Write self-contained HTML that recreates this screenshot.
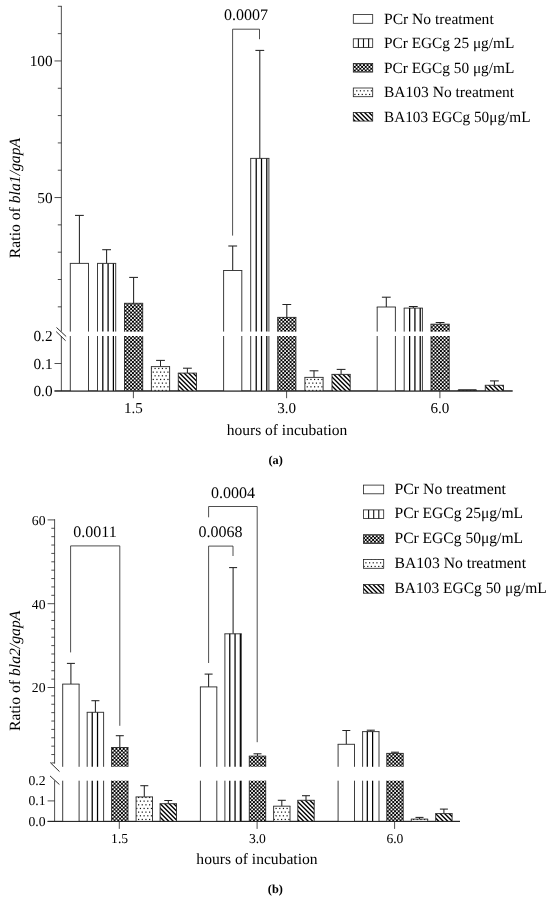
<!DOCTYPE html>
<html lang="en"><head><meta charset="utf-8"><title>Ratio of bla1/gapA and bla2/gapA</title>
<style>
html,body{margin:0;padding:0;background:#fff}
body{width:550px;height:900px;overflow:hidden}
svg{display:block;font-family:"Liberation Serif","Times New Roman",serif;fill:#000;text-rendering:geometricPrecision}
</style></head><body>
<svg width="550" height="900" viewBox="0 0 550 900">
<defs>
<pattern id="pcheck" width="11.000" height="11.000" patternUnits="userSpaceOnUse">
<rect width="11.000" height="11.000" fill="#000"/>
<rect x="0.057" y="0.057" width="1.72" height="1.72" fill="#fff"/>
<rect x="1.890" y="1.890" width="1.72" height="1.72" fill="#fff"/>
<rect x="0.057" y="3.723" width="1.72" height="1.72" fill="#fff"/>
<rect x="1.890" y="5.557" width="1.72" height="1.72" fill="#fff"/>
<rect x="0.057" y="7.390" width="1.72" height="1.72" fill="#fff"/>
<rect x="1.890" y="9.223" width="1.72" height="1.72" fill="#fff"/>
<rect x="3.723" y="0.057" width="1.72" height="1.72" fill="#fff"/>
<rect x="5.557" y="1.890" width="1.72" height="1.72" fill="#fff"/>
<rect x="3.723" y="3.723" width="1.72" height="1.72" fill="#fff"/>
<rect x="5.557" y="5.557" width="1.72" height="1.72" fill="#fff"/>
<rect x="3.723" y="7.390" width="1.72" height="1.72" fill="#fff"/>
<rect x="5.557" y="9.223" width="1.72" height="1.72" fill="#fff"/>
<rect x="7.390" y="0.057" width="1.72" height="1.72" fill="#fff"/>
<rect x="9.223" y="1.890" width="1.72" height="1.72" fill="#fff"/>
<rect x="7.390" y="3.723" width="1.72" height="1.72" fill="#fff"/>
<rect x="9.223" y="5.557" width="1.72" height="1.72" fill="#fff"/>
<rect x="7.390" y="7.390" width="1.72" height="1.72" fill="#fff"/>
<rect x="9.223" y="9.223" width="1.72" height="1.72" fill="#fff"/>
</pattern>
<pattern id="pdots" width="11.000" height="22.000" patternUnits="userSpaceOnUse">
<rect width="11.000" height="22.000" fill="#fff"/>
<rect x="0.500" y="1.200" width="1.2" height="1.2" fill="#111"/>
<rect x="2.333" y="4.867" width="1.2" height="1.2" fill="#111"/>
<rect x="0.500" y="8.533" width="1.2" height="1.2" fill="#111"/>
<rect x="2.333" y="12.200" width="1.2" height="1.2" fill="#111"/>
<rect x="0.500" y="15.867" width="1.2" height="1.2" fill="#111"/>
<rect x="2.333" y="19.533" width="1.2" height="1.2" fill="#111"/>
<rect x="4.167" y="1.200" width="1.2" height="1.2" fill="#111"/>
<rect x="6.000" y="4.867" width="1.2" height="1.2" fill="#111"/>
<rect x="4.167" y="8.533" width="1.2" height="1.2" fill="#111"/>
<rect x="6.000" y="12.200" width="1.2" height="1.2" fill="#111"/>
<rect x="4.167" y="15.867" width="1.2" height="1.2" fill="#111"/>
<rect x="6.000" y="19.533" width="1.2" height="1.2" fill="#111"/>
<rect x="7.833" y="1.200" width="1.2" height="1.2" fill="#111"/>
<rect x="9.667" y="4.867" width="1.2" height="1.2" fill="#111"/>
<rect x="7.833" y="8.533" width="1.2" height="1.2" fill="#111"/>
<rect x="9.667" y="12.200" width="1.2" height="1.2" fill="#111"/>
<rect x="7.833" y="15.867" width="1.2" height="1.2" fill="#111"/>
<rect x="9.667" y="19.533" width="1.2" height="1.2" fill="#111"/>
</pattern>
<pattern id="pdotsA" patternTransform="translate(0,1)" width="11.000" height="22.000" patternUnits="userSpaceOnUse">
<rect width="11.000" height="22.000" fill="#fff"/>
<rect x="0.500" y="1.200" width="1.2" height="1.2" fill="#111"/>
<rect x="2.333" y="4.867" width="1.2" height="1.2" fill="#111"/>
<rect x="0.500" y="8.533" width="1.2" height="1.2" fill="#111"/>
<rect x="2.333" y="12.200" width="1.2" height="1.2" fill="#111"/>
<rect x="0.500" y="15.867" width="1.2" height="1.2" fill="#111"/>
<rect x="2.333" y="19.533" width="1.2" height="1.2" fill="#111"/>
<rect x="4.167" y="1.200" width="1.2" height="1.2" fill="#111"/>
<rect x="6.000" y="4.867" width="1.2" height="1.2" fill="#111"/>
<rect x="4.167" y="8.533" width="1.2" height="1.2" fill="#111"/>
<rect x="6.000" y="12.200" width="1.2" height="1.2" fill="#111"/>
<rect x="4.167" y="15.867" width="1.2" height="1.2" fill="#111"/>
<rect x="6.000" y="19.533" width="1.2" height="1.2" fill="#111"/>
<rect x="7.833" y="1.200" width="1.2" height="1.2" fill="#111"/>
<rect x="9.667" y="4.867" width="1.2" height="1.2" fill="#111"/>
<rect x="7.833" y="8.533" width="1.2" height="1.2" fill="#111"/>
<rect x="9.667" y="12.200" width="1.2" height="1.2" fill="#111"/>
<rect x="7.833" y="15.867" width="1.2" height="1.2" fill="#111"/>
<rect x="9.667" y="19.533" width="1.2" height="1.2" fill="#111"/>
</pattern>
<pattern id="pdiag" width="18.000" height="18.000" patternUnits="userSpaceOnUse">
<rect width="18.000" height="18.000" fill="#fff"/>
<path d="M-2.00,-20.00 L20.00,2.00 M-2.00,-15.50 L20.00,6.50 M-2.00,-11.00 L20.00,11.00 M-2.00,-6.50 L20.00,15.50 M-2.00,-2.00 L20.00,20.00 M-2.00,2.50 L20.00,24.50 M-2.00,7.00 L20.00,29.00 M-2.00,11.50 L20.00,33.50 M-2.00,16.00 L20.00,38.00" stroke="#000" stroke-width="1.4" fill="none"/>
</pattern>
</defs>
<rect width="550" height="900" fill="#fff"/>

<line x1="61.35" y1="5.90" x2="61.35" y2="331.50" stroke="#222" stroke-width="0.8"/>
<line x1="61.35" y1="336.00" x2="61.35" y2="391.00" stroke="#222" stroke-width="0.8"/>
<line x1="57.80" y1="306.83" x2="61.35" y2="306.83" stroke="#222" stroke-width="0.8"/>
<line x1="57.80" y1="279.51" x2="61.35" y2="279.51" stroke="#222" stroke-width="0.8"/>
<line x1="57.80" y1="252.19" x2="61.35" y2="252.19" stroke="#222" stroke-width="0.8"/>
<line x1="57.80" y1="224.87" x2="61.35" y2="224.87" stroke="#222" stroke-width="0.8"/>
<line x1="54.50" y1="197.55" x2="61.35" y2="197.55" stroke="#222" stroke-width="0.8"/>
<line x1="57.80" y1="170.23" x2="61.35" y2="170.23" stroke="#222" stroke-width="0.8"/>
<line x1="57.80" y1="142.91" x2="61.35" y2="142.91" stroke="#222" stroke-width="0.8"/>
<line x1="57.80" y1="115.59" x2="61.35" y2="115.59" stroke="#222" stroke-width="0.8"/>
<line x1="57.80" y1="88.27" x2="61.35" y2="88.27" stroke="#222" stroke-width="0.8"/>
<line x1="54.50" y1="60.95" x2="61.35" y2="60.95" stroke="#222" stroke-width="0.8"/>
<line x1="57.80" y1="33.63" x2="61.35" y2="33.63" stroke="#222" stroke-width="0.8"/>
<line x1="57.80" y1="6.31" x2="61.35" y2="6.31" stroke="#222" stroke-width="0.8"/>
<line x1="54.50" y1="363.50" x2="61.35" y2="363.50" stroke="#222" stroke-width="0.8"/>
<line x1="54.50" y1="390.98" x2="512.60" y2="390.98" stroke="#222" stroke-width="1.0"/>
<line x1="133.40" y1="391.00" x2="133.40" y2="398.20" stroke="#222" stroke-width="0.8"/>
<line x1="286.60" y1="391.00" x2="286.60" y2="398.20" stroke="#222" stroke-width="0.8"/>
<line x1="439.90" y1="391.00" x2="439.90" y2="398.20" stroke="#222" stroke-width="0.8"/>
<line x1="56.50" y1="327.50" x2="66.20" y2="336.50" stroke="#222" stroke-width="0.95"/>
<line x1="56.20" y1="331.60" x2="65.60" y2="340.70" stroke="#222" stroke-width="0.95"/>
<text x="52.60" y="66.30" font-size="15.3" text-anchor="end" >100</text>
<text x="52.60" y="202.90" font-size="15.3" text-anchor="end" >50</text>
<text x="52.60" y="341.00" font-size="15.3" text-anchor="end" >0.2</text>
<text x="52.60" y="369.05" font-size="15.3" text-anchor="end" >0.1</text>
<text x="52.60" y="396.45" font-size="15.3" text-anchor="end" >0.0</text>
<text x="133.40" y="413.00" font-size="15.1" text-anchor="middle" >1.5</text>
<text x="286.60" y="413.00" font-size="15.1" text-anchor="middle" >3.0</text>
<text x="439.90" y="413.00" font-size="15.1" text-anchor="middle" >6.0</text>
<text x="287.00" y="435.00" font-size="15.5" text-anchor="middle" >hours of incubation</text>
<text transform="translate(20.4,198) rotate(-90)" font-size="15.7" text-anchor="middle">Ratio of <tspan font-style="italic">bla1/gapA</tspan></text>
<text x="275.7" y="464.4" font-size="12.3" font-weight="bold" text-anchor="middle">(a)</text>
<line x1="79.40" y1="215.40" x2="79.40" y2="263.40" stroke="#222" stroke-width="1.05"/>
<line x1="75.00" y1="215.40" x2="83.80" y2="215.40" stroke="#222" stroke-width="1.05"/>
<rect x="70.30" y="263.40" width="18.20" height="68.20" fill="#fff"/>
<line x1="70.30" y1="263.40" x2="70.30" y2="331.60" stroke="#222" stroke-width="0.88"/>
<line x1="88.50" y1="263.40" x2="88.50" y2="331.60" stroke="#222" stroke-width="0.88"/>
<line x1="69.86" y1="263.40" x2="88.94" y2="263.40" stroke="#222" stroke-width="0.88"/>
<rect x="70.30" y="336.00" width="18.20" height="55.00" fill="#fff"/>
<line x1="70.30" y1="336.00" x2="70.30" y2="391.00" stroke="#222" stroke-width="0.88"/>
<line x1="88.50" y1="336.00" x2="88.50" y2="391.00" stroke="#222" stroke-width="0.88"/>
<line x1="106.60" y1="249.70" x2="106.60" y2="263.40" stroke="#222" stroke-width="1.05"/>
<line x1="102.20" y1="249.70" x2="111.00" y2="249.70" stroke="#222" stroke-width="1.05"/>
<rect x="97.50" y="263.40" width="18.20" height="68.20" fill="#fff"/>
<line x1="102.81" y1="263.40" x2="102.81" y2="331.60" stroke="#000" stroke-width="1.25"/>
<line x1="108.10" y1="263.40" x2="108.10" y2="331.60" stroke="#000" stroke-width="1.25"/>
<line x1="113.39" y1="263.40" x2="113.39" y2="331.60" stroke="#000" stroke-width="1.25"/>
<line x1="97.50" y1="263.40" x2="97.50" y2="331.60" stroke="#222" stroke-width="0.88"/>
<line x1="115.70" y1="263.40" x2="115.70" y2="331.60" stroke="#222" stroke-width="0.88"/>
<line x1="97.06" y1="263.40" x2="116.14" y2="263.40" stroke="#222" stroke-width="0.88"/>
<rect x="97.50" y="336.00" width="18.20" height="55.00" fill="#fff"/>
<line x1="102.81" y1="336.00" x2="102.81" y2="391.00" stroke="#000" stroke-width="1.25"/>
<line x1="108.10" y1="336.00" x2="108.10" y2="391.00" stroke="#000" stroke-width="1.25"/>
<line x1="113.39" y1="336.00" x2="113.39" y2="391.00" stroke="#000" stroke-width="1.25"/>
<line x1="97.50" y1="336.00" x2="97.50" y2="391.00" stroke="#222" stroke-width="0.88"/>
<line x1="115.70" y1="336.00" x2="115.70" y2="391.00" stroke="#222" stroke-width="0.88"/>
<line x1="133.60" y1="277.40" x2="133.60" y2="303.30" stroke="#222" stroke-width="1.05"/>
<line x1="129.20" y1="277.40" x2="138.00" y2="277.40" stroke="#222" stroke-width="1.05"/>
<rect x="124.50" y="303.30" width="18.20" height="28.30" fill="#fff"/>
<rect x="124.50" y="303.30" width="18.20" height="28.30" fill="url(#pcheck)"/>
<line x1="124.50" y1="303.30" x2="124.50" y2="331.60" stroke="#222" stroke-width="0.88"/>
<line x1="142.70" y1="303.30" x2="142.70" y2="331.60" stroke="#222" stroke-width="0.88"/>
<line x1="124.06" y1="303.30" x2="143.14" y2="303.30" stroke="#222" stroke-width="0.88"/>
<rect x="124.50" y="336.00" width="18.20" height="55.00" fill="#fff"/>
<rect x="124.50" y="336.00" width="18.20" height="55.00" fill="url(#pcheck)"/>
<line x1="124.50" y1="336.00" x2="124.50" y2="391.00" stroke="#222" stroke-width="0.88"/>
<line x1="142.70" y1="336.00" x2="142.70" y2="391.00" stroke="#222" stroke-width="0.88"/>
<line x1="160.50" y1="360.40" x2="160.50" y2="366.60" stroke="#222" stroke-width="1.05"/>
<line x1="156.10" y1="360.40" x2="164.90" y2="360.40" stroke="#222" stroke-width="1.05"/>
<rect x="151.40" y="366.60" width="18.20" height="24.40" fill="#fff"/>
<rect x="151.40" y="366.60" width="18.20" height="24.40" fill="url(#pdots)"/>
<line x1="151.40" y1="366.60" x2="151.40" y2="391.00" stroke="#222" stroke-width="0.88"/>
<line x1="169.60" y1="366.60" x2="169.60" y2="391.00" stroke="#222" stroke-width="0.88"/>
<line x1="150.96" y1="366.60" x2="170.04" y2="366.60" stroke="#222" stroke-width="0.88"/>
<line x1="187.40" y1="368.20" x2="187.40" y2="373.10" stroke="#222" stroke-width="1.05"/>
<line x1="183.00" y1="368.20" x2="191.80" y2="368.20" stroke="#222" stroke-width="1.05"/>
<rect x="178.30" y="373.10" width="18.20" height="17.90" fill="#fff"/>
<rect x="178.30" y="373.10" width="18.20" height="17.90" fill="url(#pdiag)"/>
<line x1="178.30" y1="373.10" x2="178.30" y2="391.00" stroke="#222" stroke-width="0.88"/>
<line x1="196.50" y1="373.10" x2="196.50" y2="391.00" stroke="#222" stroke-width="0.88"/>
<line x1="177.86" y1="373.10" x2="196.94" y2="373.10" stroke="#222" stroke-width="0.88"/>
<line x1="232.70" y1="246.00" x2="232.70" y2="270.50" stroke="#222" stroke-width="1.05"/>
<line x1="228.30" y1="246.00" x2="237.10" y2="246.00" stroke="#222" stroke-width="1.05"/>
<rect x="223.60" y="270.50" width="18.20" height="61.10" fill="#fff"/>
<line x1="223.60" y1="270.50" x2="223.60" y2="331.60" stroke="#222" stroke-width="0.88"/>
<line x1="241.80" y1="270.50" x2="241.80" y2="331.60" stroke="#222" stroke-width="0.88"/>
<line x1="223.16" y1="270.50" x2="242.24" y2="270.50" stroke="#222" stroke-width="0.88"/>
<rect x="223.60" y="336.00" width="18.20" height="55.00" fill="#fff"/>
<line x1="223.60" y1="336.00" x2="223.60" y2="391.00" stroke="#222" stroke-width="0.88"/>
<line x1="241.80" y1="336.00" x2="241.80" y2="391.00" stroke="#222" stroke-width="0.88"/>
<line x1="259.80" y1="50.40" x2="259.80" y2="158.40" stroke="#222" stroke-width="1.05"/>
<line x1="255.40" y1="50.40" x2="264.20" y2="50.40" stroke="#222" stroke-width="1.05"/>
<rect x="250.70" y="158.40" width="18.20" height="173.20" fill="#fff"/>
<line x1="256.22" y1="158.40" x2="256.22" y2="331.60" stroke="#000" stroke-width="1.25"/>
<line x1="261.51" y1="158.40" x2="261.51" y2="331.60" stroke="#000" stroke-width="1.25"/>
<line x1="266.80" y1="158.40" x2="266.80" y2="331.60" stroke="#000" stroke-width="1.25"/>
<line x1="250.70" y1="158.40" x2="250.70" y2="331.60" stroke="#222" stroke-width="0.88"/>
<line x1="268.90" y1="158.40" x2="268.90" y2="331.60" stroke="#222" stroke-width="0.88"/>
<line x1="250.26" y1="158.40" x2="269.34" y2="158.40" stroke="#222" stroke-width="0.88"/>
<rect x="250.70" y="336.00" width="18.20" height="55.00" fill="#fff"/>
<line x1="256.22" y1="336.00" x2="256.22" y2="391.00" stroke="#000" stroke-width="1.25"/>
<line x1="261.51" y1="336.00" x2="261.51" y2="391.00" stroke="#000" stroke-width="1.25"/>
<line x1="266.80" y1="336.00" x2="266.80" y2="391.00" stroke="#000" stroke-width="1.25"/>
<line x1="250.70" y1="336.00" x2="250.70" y2="391.00" stroke="#222" stroke-width="0.88"/>
<line x1="268.90" y1="336.00" x2="268.90" y2="391.00" stroke="#222" stroke-width="0.88"/>
<line x1="286.80" y1="304.50" x2="286.80" y2="317.40" stroke="#222" stroke-width="1.05"/>
<line x1="282.40" y1="304.50" x2="291.20" y2="304.50" stroke="#222" stroke-width="1.05"/>
<rect x="277.70" y="317.40" width="18.20" height="14.20" fill="#fff"/>
<rect x="277.70" y="317.40" width="18.20" height="14.20" fill="url(#pcheck)"/>
<line x1="277.70" y1="317.40" x2="277.70" y2="331.60" stroke="#222" stroke-width="0.88"/>
<line x1="295.90" y1="317.40" x2="295.90" y2="331.60" stroke="#222" stroke-width="0.88"/>
<line x1="277.26" y1="317.40" x2="296.34" y2="317.40" stroke="#222" stroke-width="0.88"/>
<rect x="277.70" y="336.00" width="18.20" height="55.00" fill="#fff"/>
<rect x="277.70" y="336.00" width="18.20" height="55.00" fill="url(#pcheck)"/>
<line x1="277.70" y1="336.00" x2="277.70" y2="391.00" stroke="#222" stroke-width="0.88"/>
<line x1="295.90" y1="336.00" x2="295.90" y2="391.00" stroke="#222" stroke-width="0.88"/>
<line x1="314.00" y1="370.80" x2="314.00" y2="377.40" stroke="#222" stroke-width="1.05"/>
<line x1="309.60" y1="370.80" x2="318.40" y2="370.80" stroke="#222" stroke-width="1.05"/>
<rect x="304.90" y="377.40" width="18.20" height="13.60" fill="#fff"/>
<rect x="304.90" y="377.40" width="18.20" height="13.60" fill="url(#pdots)"/>
<line x1="304.90" y1="377.40" x2="304.90" y2="391.00" stroke="#222" stroke-width="0.88"/>
<line x1="323.10" y1="377.40" x2="323.10" y2="391.00" stroke="#222" stroke-width="0.88"/>
<line x1="304.46" y1="377.40" x2="323.54" y2="377.40" stroke="#222" stroke-width="0.88"/>
<line x1="341.10" y1="369.40" x2="341.10" y2="374.40" stroke="#222" stroke-width="1.05"/>
<line x1="336.70" y1="369.40" x2="345.50" y2="369.40" stroke="#222" stroke-width="1.05"/>
<rect x="332.00" y="374.40" width="18.20" height="16.60" fill="#fff"/>
<rect x="332.00" y="374.40" width="18.20" height="16.60" fill="url(#pdiag)"/>
<line x1="332.00" y1="374.40" x2="332.00" y2="391.00" stroke="#222" stroke-width="0.88"/>
<line x1="350.20" y1="374.40" x2="350.20" y2="391.00" stroke="#222" stroke-width="0.88"/>
<line x1="331.56" y1="374.40" x2="350.64" y2="374.40" stroke="#222" stroke-width="0.88"/>
<line x1="386.30" y1="297.20" x2="386.30" y2="307.00" stroke="#222" stroke-width="1.05"/>
<line x1="381.90" y1="297.20" x2="390.70" y2="297.20" stroke="#222" stroke-width="1.05"/>
<rect x="377.20" y="307.00" width="18.20" height="24.60" fill="#fff"/>
<line x1="377.20" y1="307.00" x2="377.20" y2="331.60" stroke="#222" stroke-width="0.88"/>
<line x1="395.40" y1="307.00" x2="395.40" y2="331.60" stroke="#222" stroke-width="0.88"/>
<line x1="376.76" y1="307.00" x2="395.84" y2="307.00" stroke="#222" stroke-width="0.88"/>
<rect x="377.20" y="336.00" width="18.20" height="55.00" fill="#fff"/>
<line x1="377.20" y1="336.00" x2="377.20" y2="391.00" stroke="#222" stroke-width="0.88"/>
<line x1="395.40" y1="336.00" x2="395.40" y2="391.00" stroke="#222" stroke-width="0.88"/>
<line x1="413.30" y1="306.50" x2="413.30" y2="308.10" stroke="#222" stroke-width="1.05"/>
<line x1="408.90" y1="306.50" x2="417.70" y2="306.50" stroke="#222" stroke-width="1.05"/>
<rect x="404.20" y="308.10" width="18.20" height="23.50" fill="#fff"/>
<line x1="409.63" y1="308.10" x2="409.63" y2="331.60" stroke="#000" stroke-width="1.25"/>
<line x1="414.92" y1="308.10" x2="414.92" y2="331.60" stroke="#000" stroke-width="1.25"/>
<line x1="420.21" y1="308.10" x2="420.21" y2="331.60" stroke="#000" stroke-width="1.25"/>
<line x1="404.20" y1="308.10" x2="404.20" y2="331.60" stroke="#222" stroke-width="0.88"/>
<line x1="422.40" y1="308.10" x2="422.40" y2="331.60" stroke="#222" stroke-width="0.88"/>
<line x1="403.76" y1="308.10" x2="422.84" y2="308.10" stroke="#222" stroke-width="0.88"/>
<rect x="404.20" y="336.00" width="18.20" height="55.00" fill="#fff"/>
<line x1="409.63" y1="336.00" x2="409.63" y2="391.00" stroke="#000" stroke-width="1.25"/>
<line x1="414.92" y1="336.00" x2="414.92" y2="391.00" stroke="#000" stroke-width="1.25"/>
<line x1="420.21" y1="336.00" x2="420.21" y2="391.00" stroke="#000" stroke-width="1.25"/>
<line x1="404.20" y1="336.00" x2="404.20" y2="391.00" stroke="#222" stroke-width="0.88"/>
<line x1="422.40" y1="336.00" x2="422.40" y2="391.00" stroke="#222" stroke-width="0.88"/>
<line x1="440.10" y1="322.50" x2="440.10" y2="324.20" stroke="#222" stroke-width="1.05"/>
<line x1="435.70" y1="322.50" x2="444.50" y2="322.50" stroke="#222" stroke-width="1.05"/>
<rect x="431.00" y="324.20" width="18.20" height="7.40" fill="#fff"/>
<rect x="431.00" y="324.20" width="18.20" height="7.40" fill="url(#pcheck)"/>
<line x1="431.00" y1="324.20" x2="431.00" y2="331.60" stroke="#222" stroke-width="0.88"/>
<line x1="449.20" y1="324.20" x2="449.20" y2="331.60" stroke="#222" stroke-width="0.88"/>
<line x1="430.56" y1="324.20" x2="449.64" y2="324.20" stroke="#222" stroke-width="0.88"/>
<rect x="431.00" y="336.00" width="18.20" height="55.00" fill="#fff"/>
<rect x="431.00" y="336.00" width="18.20" height="55.00" fill="url(#pcheck)"/>
<line x1="431.00" y1="336.00" x2="431.00" y2="391.00" stroke="#222" stroke-width="0.88"/>
<line x1="449.20" y1="336.00" x2="449.20" y2="391.00" stroke="#222" stroke-width="0.88"/>
<rect x="458.20" y="390.30" width="18.20" height="0.70" fill="#fff"/>
<rect x="458.20" y="390.30" width="18.20" height="0.70" fill="url(#pdots)"/>
<line x1="458.20" y1="390.30" x2="458.20" y2="391.00" stroke="#222" stroke-width="0.88"/>
<line x1="476.40" y1="390.30" x2="476.40" y2="391.00" stroke="#222" stroke-width="0.88"/>
<line x1="457.76" y1="390.30" x2="476.84" y2="390.30" stroke="#222" stroke-width="0.88"/>
<line x1="494.40" y1="380.90" x2="494.40" y2="385.30" stroke="#222" stroke-width="1.05"/>
<line x1="490.00" y1="380.90" x2="498.80" y2="380.90" stroke="#222" stroke-width="1.05"/>
<rect x="485.30" y="385.30" width="18.20" height="5.70" fill="#fff"/>
<rect x="485.30" y="385.30" width="18.20" height="5.70" fill="url(#pdiag)"/>
<line x1="485.30" y1="385.30" x2="485.30" y2="391.00" stroke="#222" stroke-width="0.88"/>
<line x1="503.50" y1="385.30" x2="503.50" y2="391.00" stroke="#222" stroke-width="0.88"/>
<line x1="484.86" y1="385.30" x2="503.94" y2="385.30" stroke="#222" stroke-width="0.88"/>
<line x1="458.20" y1="389.90" x2="476.40" y2="389.90" stroke="#111" stroke-width="1.1"/>
<line x1="54.50" y1="390.98" x2="512.60" y2="390.98" stroke="#222" stroke-width="1.0"/>
<path d="M232.6,235.6 V29.2 H259.5 V39.2" fill="none" stroke="#222" stroke-width="0.8"/>
<text x="245.90" y="20.00" font-size="16" text-anchor="middle" >0.0007</text>
<rect x="353.30" y="14.60" width="19.40" height="8.70" fill="#fff" stroke="#222" stroke-width="0.8"/>
<text x="384.00" y="24.00" font-size="15.5" text-anchor="start" textLength="109.7" lengthAdjust="spacingAndGlyphs">PCr No treatment</text>
<rect x="353.30" y="38.80" width="19.40" height="8.70" fill="#fff" stroke="#222" stroke-width="0.8"/>
<line x1="358.40" y1="38.80" x2="358.40" y2="47.50" stroke="#111" stroke-width="1.1"/>
<line x1="363.50" y1="38.80" x2="363.50" y2="47.50" stroke="#111" stroke-width="1.1"/>
<line x1="368.60" y1="38.80" x2="368.60" y2="47.50" stroke="#111" stroke-width="1.1"/>
<text x="384.00" y="48.00" font-size="15.5" text-anchor="start" textLength="130.3" lengthAdjust="spacingAndGlyphs">PCr EGCg 25 μg/mL</text>
<rect x="353.30" y="63.40" width="19.40" height="8.70" fill="url(#pcheck)" stroke="#222" stroke-width="0.8"/>
<text x="384.00" y="73.00" font-size="15.5" text-anchor="start" textLength="130.3" lengthAdjust="spacingAndGlyphs">PCr EGCg 50 μg/mL</text>
<rect x="353.30" y="88.00" width="19.40" height="8.70" fill="url(#pdotsA)" stroke="#222" stroke-width="0.8"/>
<text x="384.00" y="97.00" font-size="15.5" text-anchor="start" textLength="130.1" lengthAdjust="spacingAndGlyphs">BA103 No treatment</text>
<rect x="353.30" y="112.40" width="19.40" height="8.70" fill="url(#pdiag)" stroke="#222" stroke-width="0.8"/>
<text x="384.00" y="122.00" font-size="15.5" text-anchor="start" textLength="146.5" lengthAdjust="spacingAndGlyphs">BA103 EGCg 50μg/mL</text>
<line x1="54.60" y1="519.20" x2="54.60" y2="763.60" stroke="#222" stroke-width="0.8"/>
<line x1="54.60" y1="780.60" x2="54.60" y2="821.40" stroke="#222" stroke-width="0.8"/>
<line x1="47.60" y1="519.90" x2="54.60" y2="519.90" stroke="#222" stroke-width="0.8"/>
<line x1="51.30" y1="528.28" x2="54.60" y2="528.28" stroke="#222" stroke-width="0.8"/>
<line x1="51.30" y1="536.66" x2="54.60" y2="536.66" stroke="#222" stroke-width="0.8"/>
<line x1="51.30" y1="545.04" x2="54.60" y2="545.04" stroke="#222" stroke-width="0.8"/>
<line x1="51.30" y1="553.42" x2="54.60" y2="553.42" stroke="#222" stroke-width="0.8"/>
<line x1="51.30" y1="561.80" x2="54.60" y2="561.80" stroke="#222" stroke-width="0.8"/>
<line x1="51.30" y1="570.18" x2="54.60" y2="570.18" stroke="#222" stroke-width="0.8"/>
<line x1="51.30" y1="578.56" x2="54.60" y2="578.56" stroke="#222" stroke-width="0.8"/>
<line x1="51.30" y1="586.94" x2="54.60" y2="586.94" stroke="#222" stroke-width="0.8"/>
<line x1="51.30" y1="595.32" x2="54.60" y2="595.32" stroke="#222" stroke-width="0.8"/>
<line x1="47.60" y1="603.70" x2="54.60" y2="603.70" stroke="#222" stroke-width="0.8"/>
<line x1="51.30" y1="612.08" x2="54.60" y2="612.08" stroke="#222" stroke-width="0.8"/>
<line x1="51.30" y1="620.46" x2="54.60" y2="620.46" stroke="#222" stroke-width="0.8"/>
<line x1="51.30" y1="628.84" x2="54.60" y2="628.84" stroke="#222" stroke-width="0.8"/>
<line x1="51.30" y1="637.22" x2="54.60" y2="637.22" stroke="#222" stroke-width="0.8"/>
<line x1="51.30" y1="645.60" x2="54.60" y2="645.60" stroke="#222" stroke-width="0.8"/>
<line x1="51.30" y1="653.98" x2="54.60" y2="653.98" stroke="#222" stroke-width="0.8"/>
<line x1="51.30" y1="662.36" x2="54.60" y2="662.36" stroke="#222" stroke-width="0.8"/>
<line x1="51.30" y1="670.74" x2="54.60" y2="670.74" stroke="#222" stroke-width="0.8"/>
<line x1="51.30" y1="679.12" x2="54.60" y2="679.12" stroke="#222" stroke-width="0.8"/>
<line x1="47.60" y1="687.50" x2="54.60" y2="687.50" stroke="#222" stroke-width="0.8"/>
<line x1="51.30" y1="695.88" x2="54.60" y2="695.88" stroke="#222" stroke-width="0.8"/>
<line x1="51.30" y1="704.26" x2="54.60" y2="704.26" stroke="#222" stroke-width="0.8"/>
<line x1="51.30" y1="712.64" x2="54.60" y2="712.64" stroke="#222" stroke-width="0.8"/>
<line x1="51.30" y1="721.02" x2="54.60" y2="721.02" stroke="#222" stroke-width="0.8"/>
<line x1="51.30" y1="729.40" x2="54.60" y2="729.40" stroke="#222" stroke-width="0.8"/>
<line x1="51.30" y1="737.78" x2="54.60" y2="737.78" stroke="#222" stroke-width="0.8"/>
<line x1="51.30" y1="746.16" x2="54.60" y2="746.16" stroke="#222" stroke-width="0.8"/>
<line x1="51.30" y1="754.54" x2="54.60" y2="754.54" stroke="#222" stroke-width="0.8"/>
<line x1="51.30" y1="762.92" x2="54.60" y2="762.92" stroke="#222" stroke-width="0.8"/>
<line x1="47.60" y1="800.90" x2="54.60" y2="800.90" stroke="#222" stroke-width="0.8"/>
<line x1="47.60" y1="821.40" x2="460.00" y2="821.40" stroke="#222" stroke-width="1.0"/>
<line x1="119.30" y1="821.40" x2="119.30" y2="828.90" stroke="#222" stroke-width="0.8"/>
<line x1="257.10" y1="821.40" x2="257.10" y2="828.90" stroke="#222" stroke-width="0.8"/>
<line x1="394.60" y1="821.40" x2="394.60" y2="828.90" stroke="#222" stroke-width="0.8"/>
<line x1="50.20" y1="762.50" x2="59.50" y2="771.60" stroke="#222" stroke-width="0.95"/>
<line x1="50.00" y1="775.90" x2="59.40" y2="784.50" stroke="#222" stroke-width="0.95"/>
<text x="45.50" y="525.00" font-size="13.7" text-anchor="end" >60</text>
<text x="45.50" y="609.00" font-size="13.7" text-anchor="end" >40</text>
<text x="45.50" y="692.00" font-size="13.7" text-anchor="end" >20</text>
<text x="45.50" y="785.00" font-size="13.7" text-anchor="end" >0.2</text>
<text x="45.50" y="805.00" font-size="13.7" text-anchor="end" >0.1</text>
<text x="45.50" y="826.00" font-size="13.7" text-anchor="end" >0.0</text>
<text x="119.60" y="843.00" font-size="13.6" text-anchor="middle" >1.5</text>
<text x="257.40" y="843.00" font-size="13.6" text-anchor="middle" >3.0</text>
<text x="394.90" y="843.00" font-size="13.6" text-anchor="middle" >6.0</text>
<text x="257.00" y="863.60" font-size="15.6" text-anchor="middle" >hours of incubation</text>
<text transform="translate(20.1,670.8) rotate(-90)" font-size="15.7" text-anchor="middle">Ratio of <tspan font-style="italic">bla2/gapA</tspan></text>
<text x="275.3" y="893.2" font-size="12.3" font-weight="bold" text-anchor="middle">(b)</text>
<line x1="70.90" y1="663.40" x2="70.90" y2="684.10" stroke="#222" stroke-width="1.05"/>
<line x1="66.90" y1="663.40" x2="74.90" y2="663.40" stroke="#222" stroke-width="1.05"/>
<rect x="62.70" y="684.10" width="16.40" height="82.70" fill="#fff"/>
<line x1="62.70" y1="684.10" x2="62.70" y2="766.80" stroke="#222" stroke-width="0.88"/>
<line x1="79.10" y1="684.10" x2="79.10" y2="766.80" stroke="#222" stroke-width="0.88"/>
<line x1="62.26" y1="684.10" x2="79.54" y2="684.10" stroke="#222" stroke-width="0.88"/>
<rect x="62.70" y="780.70" width="16.40" height="40.70" fill="#fff"/>
<line x1="62.70" y1="780.70" x2="62.70" y2="821.40" stroke="#222" stroke-width="0.88"/>
<line x1="79.10" y1="780.70" x2="79.10" y2="821.40" stroke="#222" stroke-width="0.88"/>
<line x1="95.40" y1="700.70" x2="95.40" y2="712.30" stroke="#222" stroke-width="1.05"/>
<line x1="91.40" y1="700.70" x2="99.40" y2="700.70" stroke="#222" stroke-width="1.05"/>
<rect x="87.20" y="712.30" width="16.40" height="54.50" fill="#fff"/>
<line x1="92.23" y1="712.30" x2="92.23" y2="766.80" stroke="#000" stroke-width="1.25"/>
<line x1="97.52" y1="712.30" x2="97.52" y2="766.80" stroke="#000" stroke-width="1.25"/>
<line x1="87.20" y1="712.30" x2="87.20" y2="766.80" stroke="#222" stroke-width="0.88"/>
<line x1="103.60" y1="712.30" x2="103.60" y2="766.80" stroke="#222" stroke-width="0.88"/>
<line x1="86.76" y1="712.30" x2="104.04" y2="712.30" stroke="#222" stroke-width="0.88"/>
<rect x="87.20" y="780.70" width="16.40" height="40.70" fill="#fff"/>
<line x1="92.23" y1="780.70" x2="92.23" y2="821.40" stroke="#000" stroke-width="1.25"/>
<line x1="97.52" y1="780.70" x2="97.52" y2="821.40" stroke="#000" stroke-width="1.25"/>
<line x1="87.20" y1="780.70" x2="87.20" y2="821.40" stroke="#222" stroke-width="0.88"/>
<line x1="103.60" y1="780.70" x2="103.60" y2="821.40" stroke="#222" stroke-width="0.88"/>
<line x1="119.80" y1="735.70" x2="119.80" y2="747.50" stroke="#222" stroke-width="1.05"/>
<line x1="115.80" y1="735.70" x2="123.80" y2="735.70" stroke="#222" stroke-width="1.05"/>
<rect x="111.60" y="747.50" width="16.40" height="19.30" fill="#fff"/>
<rect x="111.60" y="747.50" width="16.40" height="19.30" fill="url(#pcheck)"/>
<line x1="111.60" y1="747.50" x2="111.60" y2="766.80" stroke="#222" stroke-width="0.88"/>
<line x1="128.00" y1="747.50" x2="128.00" y2="766.80" stroke="#222" stroke-width="0.88"/>
<line x1="111.16" y1="747.50" x2="128.44" y2="747.50" stroke="#222" stroke-width="0.88"/>
<rect x="111.60" y="780.70" width="16.40" height="40.70" fill="#fff"/>
<rect x="111.60" y="780.70" width="16.40" height="40.70" fill="url(#pcheck)"/>
<line x1="111.60" y1="780.70" x2="111.60" y2="821.40" stroke="#222" stroke-width="0.88"/>
<line x1="128.00" y1="780.70" x2="128.00" y2="821.40" stroke="#222" stroke-width="0.88"/>
<line x1="144.30" y1="785.70" x2="144.30" y2="796.90" stroke="#222" stroke-width="1.05"/>
<line x1="140.30" y1="785.70" x2="148.30" y2="785.70" stroke="#222" stroke-width="1.05"/>
<rect x="136.10" y="796.90" width="16.40" height="24.50" fill="#fff"/>
<rect x="136.10" y="796.90" width="16.40" height="24.50" fill="url(#pdots)"/>
<line x1="136.10" y1="796.90" x2="136.10" y2="821.40" stroke="#222" stroke-width="0.88"/>
<line x1="152.50" y1="796.90" x2="152.50" y2="821.40" stroke="#222" stroke-width="0.88"/>
<line x1="135.66" y1="796.90" x2="152.94" y2="796.90" stroke="#222" stroke-width="0.88"/>
<line x1="168.30" y1="800.50" x2="168.30" y2="803.70" stroke="#222" stroke-width="1.05"/>
<line x1="164.30" y1="800.50" x2="172.30" y2="800.50" stroke="#222" stroke-width="1.05"/>
<rect x="160.10" y="803.70" width="16.40" height="17.70" fill="#fff"/>
<rect x="160.10" y="803.70" width="16.40" height="17.70" fill="url(#pdiag)"/>
<line x1="160.10" y1="803.70" x2="160.10" y2="821.40" stroke="#222" stroke-width="0.88"/>
<line x1="176.50" y1="803.70" x2="176.50" y2="821.40" stroke="#222" stroke-width="0.88"/>
<line x1="159.66" y1="803.70" x2="176.94" y2="803.70" stroke="#222" stroke-width="0.88"/>
<line x1="208.60" y1="674.10" x2="208.60" y2="686.90" stroke="#222" stroke-width="1.05"/>
<line x1="204.60" y1="674.10" x2="212.60" y2="674.10" stroke="#222" stroke-width="1.05"/>
<rect x="200.40" y="686.90" width="16.40" height="79.90" fill="#fff"/>
<line x1="200.40" y1="686.90" x2="200.40" y2="766.80" stroke="#222" stroke-width="0.88"/>
<line x1="216.80" y1="686.90" x2="216.80" y2="766.80" stroke="#222" stroke-width="0.88"/>
<line x1="199.96" y1="686.90" x2="217.24" y2="686.90" stroke="#222" stroke-width="0.88"/>
<rect x="200.40" y="780.70" width="16.40" height="40.70" fill="#fff"/>
<line x1="200.40" y1="780.70" x2="200.40" y2="821.40" stroke="#222" stroke-width="0.88"/>
<line x1="216.80" y1="780.70" x2="216.80" y2="821.40" stroke="#222" stroke-width="0.88"/>
<line x1="233.10" y1="567.60" x2="233.10" y2="633.80" stroke="#222" stroke-width="1.05"/>
<line x1="229.10" y1="567.60" x2="237.10" y2="567.60" stroke="#222" stroke-width="1.05"/>
<rect x="224.90" y="633.80" width="16.40" height="133.00" fill="#fff"/>
<line x1="229.77" y1="633.80" x2="229.77" y2="766.80" stroke="#000" stroke-width="1.25"/>
<line x1="235.06" y1="633.80" x2="235.06" y2="766.80" stroke="#000" stroke-width="1.25"/>
<line x1="240.35" y1="633.80" x2="240.35" y2="766.80" stroke="#000" stroke-width="1.25"/>
<line x1="224.90" y1="633.80" x2="224.90" y2="766.80" stroke="#222" stroke-width="0.88"/>
<line x1="241.30" y1="633.80" x2="241.30" y2="766.80" stroke="#222" stroke-width="0.88"/>
<line x1="224.46" y1="633.80" x2="241.74" y2="633.80" stroke="#222" stroke-width="0.88"/>
<rect x="224.90" y="780.70" width="16.40" height="40.70" fill="#fff"/>
<line x1="229.77" y1="780.70" x2="229.77" y2="821.40" stroke="#000" stroke-width="1.25"/>
<line x1="235.06" y1="780.70" x2="235.06" y2="821.40" stroke="#000" stroke-width="1.25"/>
<line x1="240.35" y1="780.70" x2="240.35" y2="821.40" stroke="#000" stroke-width="1.25"/>
<line x1="224.90" y1="780.70" x2="224.90" y2="821.40" stroke="#222" stroke-width="0.88"/>
<line x1="241.30" y1="780.70" x2="241.30" y2="821.40" stroke="#222" stroke-width="0.88"/>
<line x1="257.50" y1="753.80" x2="257.50" y2="756.10" stroke="#222" stroke-width="1.05"/>
<line x1="253.50" y1="753.80" x2="261.50" y2="753.80" stroke="#222" stroke-width="1.05"/>
<rect x="249.30" y="756.10" width="16.40" height="10.70" fill="#fff"/>
<rect x="249.30" y="756.10" width="16.40" height="10.70" fill="url(#pcheck)"/>
<line x1="249.30" y1="756.10" x2="249.30" y2="766.80" stroke="#222" stroke-width="0.88"/>
<line x1="265.70" y1="756.10" x2="265.70" y2="766.80" stroke="#222" stroke-width="0.88"/>
<line x1="248.86" y1="756.10" x2="266.14" y2="756.10" stroke="#222" stroke-width="0.88"/>
<rect x="249.30" y="780.70" width="16.40" height="40.70" fill="#fff"/>
<rect x="249.30" y="780.70" width="16.40" height="40.70" fill="url(#pcheck)"/>
<line x1="249.30" y1="780.70" x2="249.30" y2="821.40" stroke="#222" stroke-width="0.88"/>
<line x1="265.70" y1="780.70" x2="265.70" y2="821.40" stroke="#222" stroke-width="0.88"/>
<line x1="281.80" y1="800.30" x2="281.80" y2="806.20" stroke="#222" stroke-width="1.05"/>
<line x1="277.80" y1="800.30" x2="285.80" y2="800.30" stroke="#222" stroke-width="1.05"/>
<rect x="273.60" y="806.20" width="16.40" height="15.20" fill="#fff"/>
<rect x="273.60" y="806.20" width="16.40" height="15.20" fill="url(#pdots)"/>
<line x1="273.60" y1="806.20" x2="273.60" y2="821.40" stroke="#222" stroke-width="0.88"/>
<line x1="290.00" y1="806.20" x2="290.00" y2="821.40" stroke="#222" stroke-width="0.88"/>
<line x1="273.16" y1="806.20" x2="290.44" y2="806.20" stroke="#222" stroke-width="0.88"/>
<line x1="306.00" y1="795.70" x2="306.00" y2="800.30" stroke="#222" stroke-width="1.05"/>
<line x1="302.00" y1="795.70" x2="310.00" y2="795.70" stroke="#222" stroke-width="1.05"/>
<rect x="297.80" y="800.30" width="16.40" height="21.10" fill="#fff"/>
<rect x="297.80" y="800.30" width="16.40" height="21.10" fill="url(#pdiag)"/>
<line x1="297.80" y1="800.30" x2="297.80" y2="821.40" stroke="#222" stroke-width="0.88"/>
<line x1="314.20" y1="800.30" x2="314.20" y2="821.40" stroke="#222" stroke-width="0.88"/>
<line x1="297.36" y1="800.30" x2="314.64" y2="800.30" stroke="#222" stroke-width="0.88"/>
<line x1="346.30" y1="730.50" x2="346.30" y2="744.30" stroke="#222" stroke-width="1.05"/>
<line x1="342.30" y1="730.50" x2="350.30" y2="730.50" stroke="#222" stroke-width="1.05"/>
<rect x="338.10" y="744.30" width="16.40" height="22.50" fill="#fff"/>
<line x1="338.10" y1="744.30" x2="338.10" y2="766.80" stroke="#222" stroke-width="0.88"/>
<line x1="354.50" y1="744.30" x2="354.50" y2="766.80" stroke="#222" stroke-width="0.88"/>
<line x1="337.66" y1="744.30" x2="354.94" y2="744.30" stroke="#222" stroke-width="0.88"/>
<rect x="338.10" y="780.70" width="16.40" height="40.70" fill="#fff"/>
<line x1="338.10" y1="780.70" x2="338.10" y2="821.40" stroke="#222" stroke-width="0.88"/>
<line x1="354.50" y1="780.70" x2="354.50" y2="821.40" stroke="#222" stroke-width="0.88"/>
<line x1="370.80" y1="730.20" x2="370.80" y2="731.60" stroke="#222" stroke-width="1.05"/>
<line x1="366.80" y1="730.20" x2="374.80" y2="730.20" stroke="#222" stroke-width="1.05"/>
<rect x="362.60" y="731.60" width="16.40" height="35.20" fill="#fff"/>
<line x1="367.31" y1="731.60" x2="367.31" y2="766.80" stroke="#000" stroke-width="1.25"/>
<line x1="372.60" y1="731.60" x2="372.60" y2="766.80" stroke="#000" stroke-width="1.25"/>
<line x1="362.60" y1="731.60" x2="362.60" y2="766.80" stroke="#222" stroke-width="0.88"/>
<line x1="379.00" y1="731.60" x2="379.00" y2="766.80" stroke="#222" stroke-width="0.88"/>
<line x1="362.16" y1="731.60" x2="379.44" y2="731.60" stroke="#222" stroke-width="0.88"/>
<rect x="362.60" y="780.70" width="16.40" height="40.70" fill="#fff"/>
<line x1="367.31" y1="780.70" x2="367.31" y2="821.40" stroke="#000" stroke-width="1.25"/>
<line x1="372.60" y1="780.70" x2="372.60" y2="821.40" stroke="#000" stroke-width="1.25"/>
<line x1="362.60" y1="780.70" x2="362.60" y2="821.40" stroke="#222" stroke-width="0.88"/>
<line x1="379.00" y1="780.70" x2="379.00" y2="821.40" stroke="#222" stroke-width="0.88"/>
<line x1="395.00" y1="752.20" x2="395.00" y2="753.40" stroke="#222" stroke-width="1.05"/>
<line x1="391.00" y1="752.20" x2="399.00" y2="752.20" stroke="#222" stroke-width="1.05"/>
<rect x="386.80" y="753.40" width="16.40" height="13.40" fill="#fff"/>
<rect x="386.80" y="753.40" width="16.40" height="13.40" fill="url(#pcheck)"/>
<line x1="386.80" y1="753.40" x2="386.80" y2="766.80" stroke="#222" stroke-width="0.88"/>
<line x1="403.20" y1="753.40" x2="403.20" y2="766.80" stroke="#222" stroke-width="0.88"/>
<line x1="386.36" y1="753.40" x2="403.64" y2="753.40" stroke="#222" stroke-width="0.88"/>
<rect x="386.80" y="780.70" width="16.40" height="40.70" fill="#fff"/>
<rect x="386.80" y="780.70" width="16.40" height="40.70" fill="url(#pcheck)"/>
<line x1="386.80" y1="780.70" x2="386.80" y2="821.40" stroke="#222" stroke-width="0.88"/>
<line x1="403.20" y1="780.70" x2="403.20" y2="821.40" stroke="#222" stroke-width="0.88"/>
<line x1="419.50" y1="817.40" x2="419.50" y2="819.10" stroke="#222" stroke-width="1.05"/>
<line x1="415.50" y1="817.40" x2="423.50" y2="817.40" stroke="#222" stroke-width="1.05"/>
<rect x="411.30" y="819.10" width="16.40" height="2.30" fill="#fff"/>
<rect x="411.30" y="819.10" width="16.40" height="2.30" fill="url(#pdots)"/>
<line x1="411.30" y1="819.10" x2="411.30" y2="821.40" stroke="#222" stroke-width="0.88"/>
<line x1="427.70" y1="819.10" x2="427.70" y2="821.40" stroke="#222" stroke-width="0.88"/>
<line x1="410.86" y1="819.10" x2="428.14" y2="819.10" stroke="#222" stroke-width="0.88"/>
<line x1="443.90" y1="809.10" x2="443.90" y2="813.60" stroke="#222" stroke-width="1.05"/>
<line x1="439.90" y1="809.10" x2="447.90" y2="809.10" stroke="#222" stroke-width="1.05"/>
<rect x="435.70" y="813.60" width="16.40" height="7.80" fill="#fff"/>
<rect x="435.70" y="813.60" width="16.40" height="7.80" fill="url(#pdiag)"/>
<line x1="435.70" y1="813.60" x2="435.70" y2="821.40" stroke="#222" stroke-width="0.88"/>
<line x1="452.10" y1="813.60" x2="452.10" y2="821.40" stroke="#222" stroke-width="0.88"/>
<line x1="435.26" y1="813.60" x2="452.54" y2="813.60" stroke="#222" stroke-width="0.88"/>
<line x1="47.60" y1="821.40" x2="460.00" y2="821.40" stroke="#222" stroke-width="1.0"/>
<path d="M70.6,652.4 V545.9 H119.8 V725.8" fill="none" stroke="#222" stroke-width="0.8"/>
<text x="95.00" y="536.90" font-size="16" text-anchor="middle" >0.0011</text>
<path d="M208.6,517.3 V506.5 H257.2 V742.2" fill="none" stroke="#222" stroke-width="0.8"/>
<text x="232.90" y="497.80" font-size="16" text-anchor="middle" >0.0004</text>
<path d="M208.6,663 V546.1 H233.0 V556" fill="none" stroke="#222" stroke-width="0.8"/>
<text x="220.50" y="537.20" font-size="16" text-anchor="middle" >0.0068</text>
<rect x="363.50" y="485.10" width="20.20" height="8.70" fill="#fff" stroke="#222" stroke-width="0.8"/>
<text x="394.50" y="494.00" font-size="15.7" text-anchor="start" textLength="111.5" lengthAdjust="spacingAndGlyphs">PCr No treatment</text>
<rect x="363.50" y="509.90" width="20.20" height="8.70" fill="#fff" stroke="#222" stroke-width="0.8"/>
<line x1="368.60" y1="509.90" x2="368.60" y2="518.60" stroke="#111" stroke-width="1.1"/>
<line x1="373.70" y1="509.90" x2="373.70" y2="518.60" stroke="#111" stroke-width="1.1"/>
<line x1="378.80" y1="509.90" x2="378.80" y2="518.60" stroke="#111" stroke-width="1.1"/>
<text x="394.50" y="518.00" font-size="15.7" text-anchor="start" textLength="128.5" lengthAdjust="spacingAndGlyphs">PCr EGCg 25μg/mL</text>
<rect x="363.50" y="534.70" width="20.20" height="8.70" fill="url(#pcheck)" stroke="#222" stroke-width="0.8"/>
<text x="394.50" y="543.00" font-size="15.7" text-anchor="start" textLength="128.5" lengthAdjust="spacingAndGlyphs">PCr EGCg 50μg/mL</text>
<rect x="363.50" y="559.60" width="20.20" height="8.70" fill="url(#pdots)" stroke="#222" stroke-width="0.8"/>
<text x="394.50" y="568.00" font-size="15.7" text-anchor="start" textLength="131.5" lengthAdjust="spacingAndGlyphs">BA103 No treatment</text>
<rect x="363.50" y="584.50" width="20.20" height="8.70" fill="url(#pdiag)" stroke="#222" stroke-width="0.8"/>
<text x="394.50" y="593.00" font-size="15.7" text-anchor="start" textLength="152.3" lengthAdjust="spacingAndGlyphs">BA103 EGCg 50 μg/mL</text>
</svg></body></html>
